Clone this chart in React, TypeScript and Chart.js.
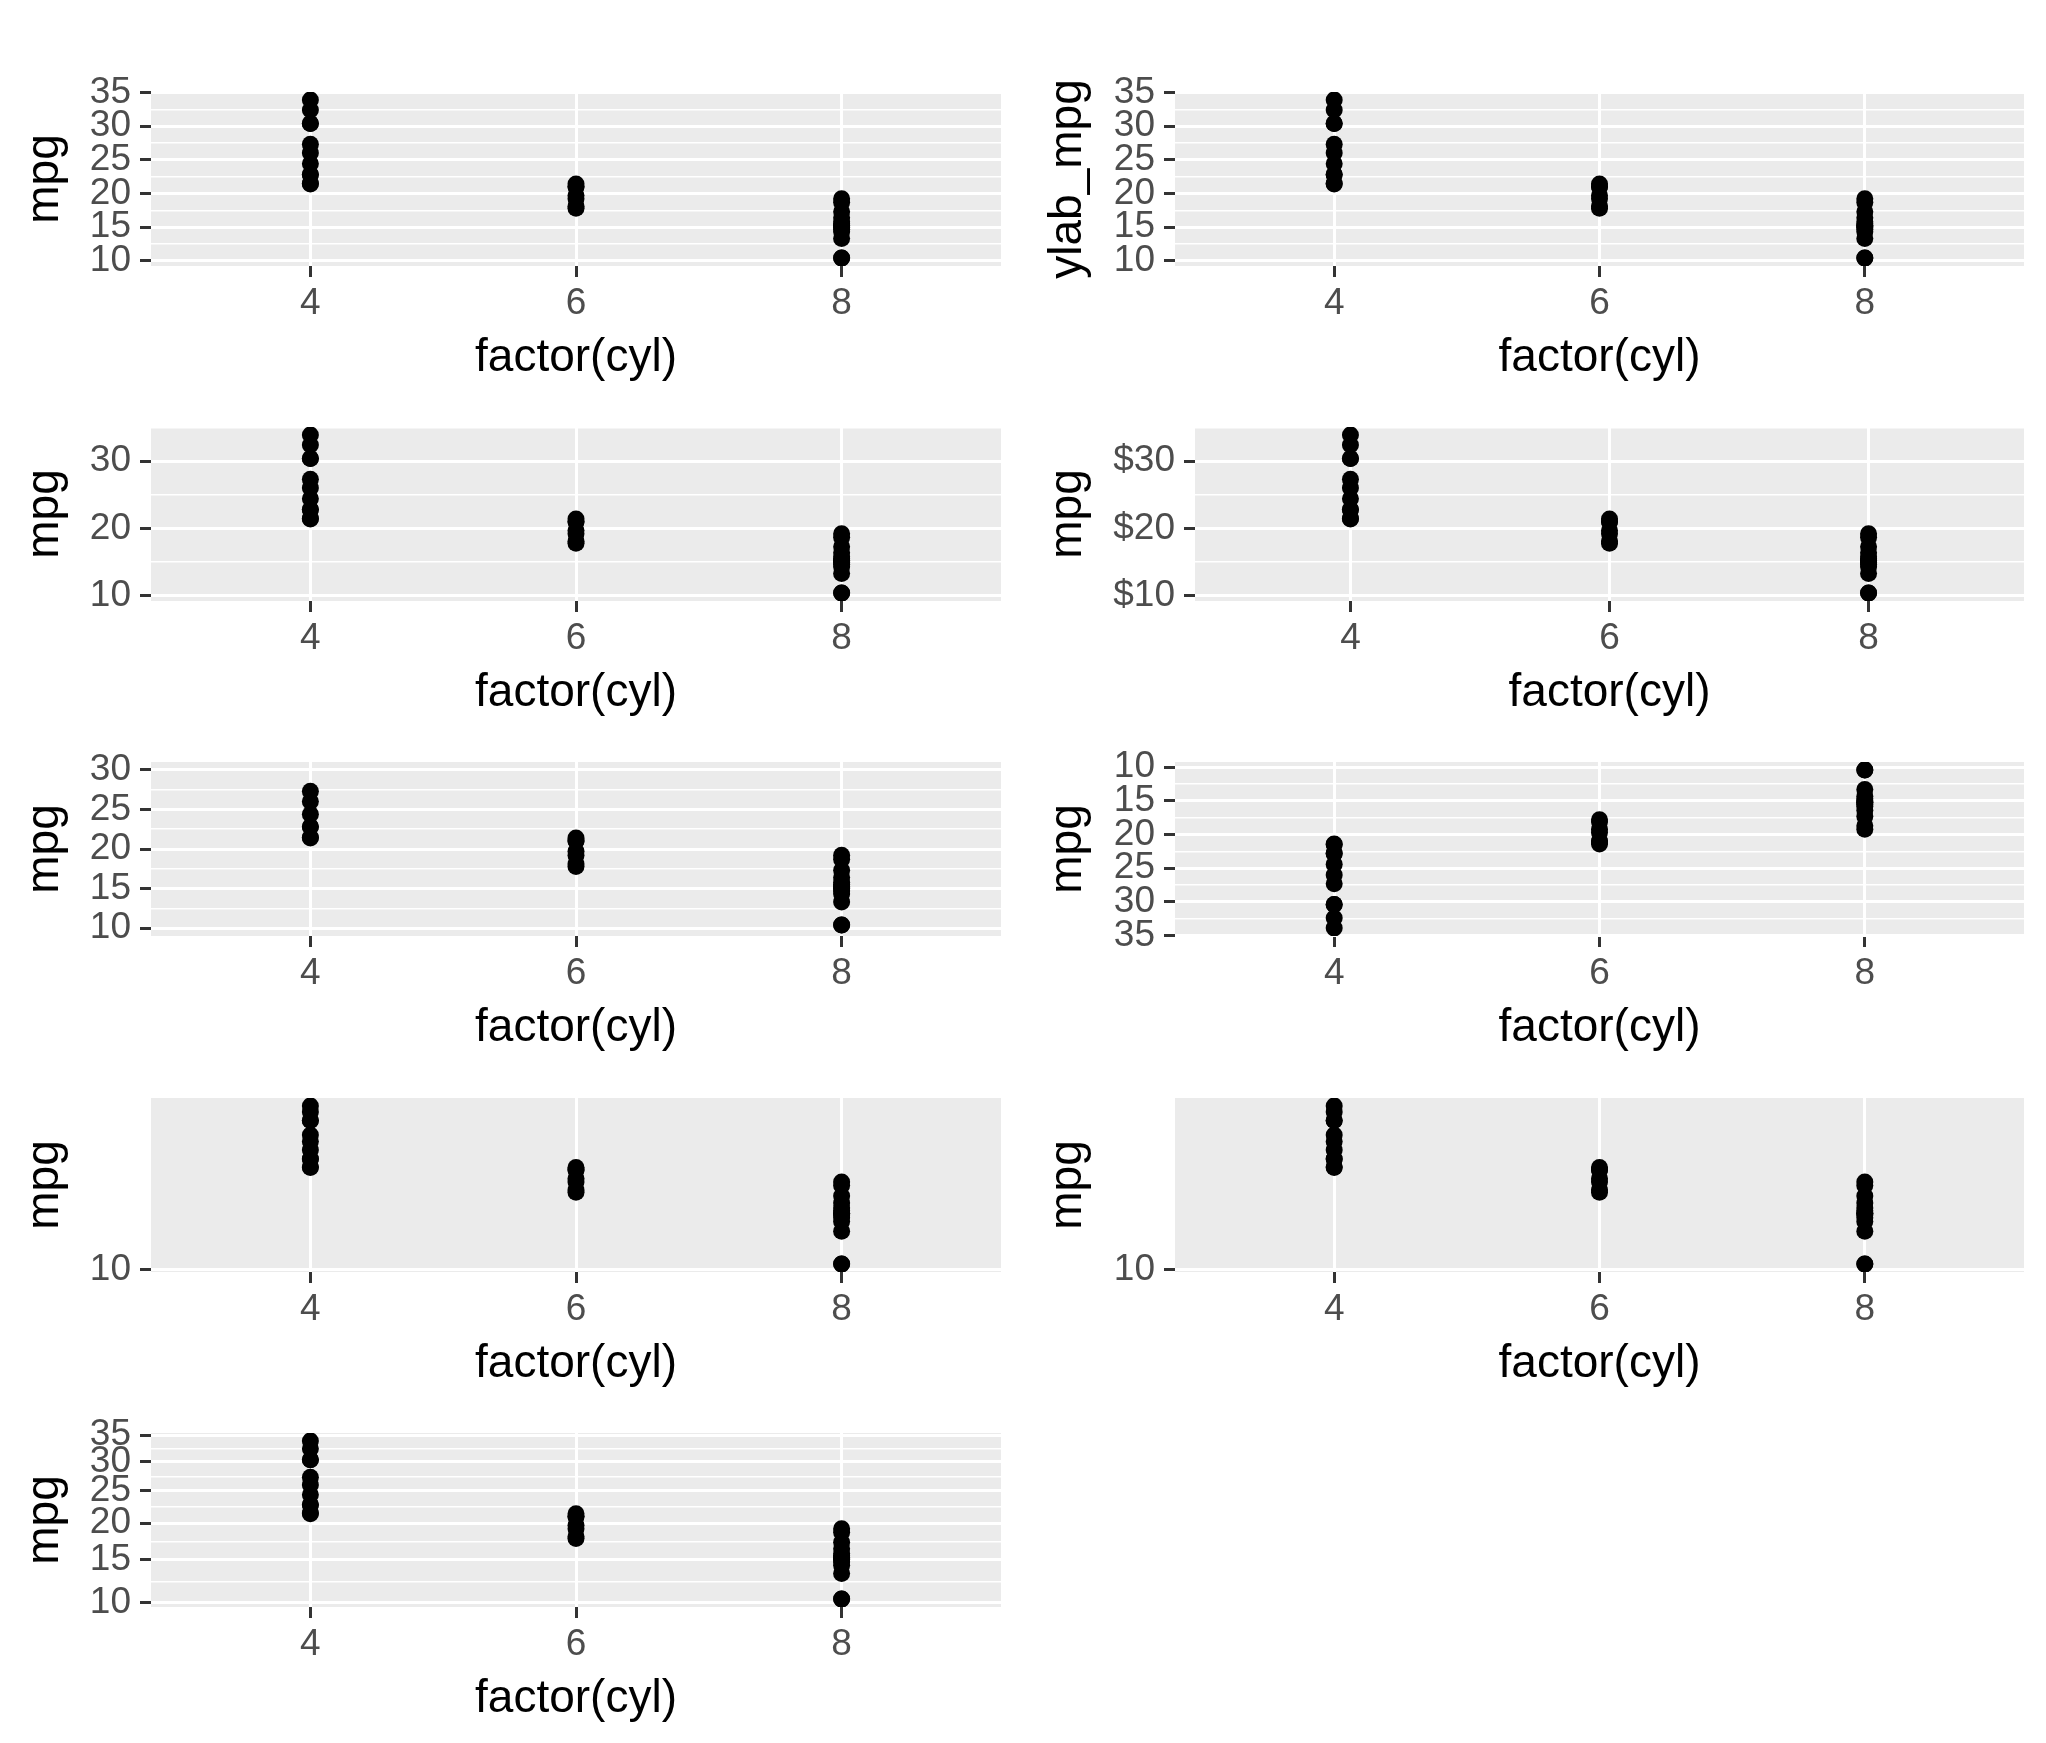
import React, { useEffect, useRef } from "react";
import { Chart, registerables, LinearScale } from "chart.js";

Chart.register(...registerables);

class SqrtScale extends LinearScale {
  static id = "sqrt";
  static defaults = LinearScale.defaults;
  getPixelForValue(value: number) {
    const a = Math.sqrt(this.min);
    const b = Math.sqrt(this.max);
    return this.getPixelForDecimal((Math.sqrt(value) - a) / (b - a));
  }
  getValueForPixel(pixel: number) {
    const a = Math.sqrt(this.min);
    const b = Math.sqrt(this.max);
    const s = a + this.getDecimalForPixel(pixel) * (b - a);
    return s * s;
  }
}
Chart.register(SqrtScale as any);

// ---------------- data ----------------
const cylLevels = ["4", "6", "8"];
const mpgCyl4 = [22.8, 24.4, 22.8, 32.4, 30.4, 33.9, 21.5, 27.3, 26.0, 30.4, 21.4];
const mpgCyl6 = [21.0, 21.0, 21.4, 18.1, 19.2, 17.8, 19.7];
const mpgCyl8 = [18.7, 14.3, 16.4, 17.3, 15.2, 10.4, 10.4, 14.7, 15.5, 15.2, 13.3, 19.2, 15.8, 15.0];

const breaksBy5 = [10, 15, 20, 25, 30, 35];
const minorBy5 = [12.5, 17.5, 22.5, 27.5, 32.5];
const breaksBy10 = [10, 20, 30];
const minorBy10 = [15, 25, 35];
const dollarLabels = ["$10", "$20", "$30"];
const limitedRange = [10, 30];
const breaksLimited = [10, 15, 20, 25, 30];
const minorLimited = [12.5, 17.5, 22.5, 27.5];
const breaksLog = [10];
const breaksSqrt = [10, 15, 20, 25, 30, 35];

// ---------------- layout ----------------
const COL_LEFT = [0, 1023];
const CANVAS_W = 1023;
const RIGHT_PAD = 22;
const PANEL_TOP0 = 92;
const ROW_STEP = 335.2;
const PANEL_H = 174;
const TOP_PAD = 45;
const X_AXIS_H = 115;

const FONT = "'Liberation Sans', Arial, sans-serif";
const tickFont = { family: FONT, size: 37, lineHeight: 1 };
const titleFont = { family: FONT, size: 46, lineHeight: 1 };

type Spec = {
  col: number;
  row: number;
  yTitle: string;
  kind: "linear" | "log" | "sqrt";
  breaks: number[];
  minor: number[];
  labels?: string[];
  limits?: number[];
  reverse?: boolean;
  yAxisW: number;
};

const panels: Spec[] = [
  { col: 0, row: 0, yTitle: "mpg", kind: "linear", breaks: breaksBy5, minor: minorBy5, yAxisW: 151 },
  { col: 1, row: 0, yTitle: "ylab_mpg", kind: "linear", breaks: breaksBy5, minor: minorBy5, yAxisW: 152 },
  { col: 0, row: 1, yTitle: "mpg", kind: "linear", breaks: breaksBy10, minor: minorBy10, yAxisW: 151 },
  { col: 1, row: 1, yTitle: "mpg", kind: "linear", breaks: breaksBy10, minor: minorBy10, labels: dollarLabels, yAxisW: 172 },
  { col: 0, row: 2, yTitle: "mpg", kind: "linear", breaks: breaksLimited, minor: minorLimited, limits: limitedRange, yAxisW: 151 },
  { col: 1, row: 2, yTitle: "mpg", kind: "linear", breaks: breaksBy5, minor: minorBy5, reverse: true, yAxisW: 152 },
  { col: 0, row: 3, yTitle: "mpg", kind: "log", breaks: breaksLog, minor: [], yAxisW: 151 },
  { col: 1, row: 3, yTitle: "mpg", kind: "log", breaks: breaksLog, minor: [], yAxisW: 152 },
  { col: 0, row: 4, yTitle: "mpg", kind: "sqrt", breaks: breaksSqrt, minor: [], yAxisW: 151 },
];

const fwd = (kind: string, v: number) => (kind === "log" ? Math.log10(v) : kind === "sqrt" ? Math.sqrt(v) : v);
const inv = (kind: string, v: number) => (kind === "log" ? Math.pow(10, v) : kind === "sqrt" ? v * v : v);

function buildConfig(spec: Spec): any {
  const series = [mpgCyl4, mpgCyl6, mpgCyl8];
  const all = series.flat();
  const lo = spec.limits ? spec.limits[0] : Math.min(...all);
  const hi = spec.limits ? spec.limits[1] : Math.max(...all);
  const tlo = fwd(spec.kind, lo);
  const thi = fwd(spec.kind, hi);
  const pad = (thi - tlo) * 0.05;
  const yMin = inv(spec.kind, tlo - pad);
  const yMax = inv(spec.kind, thi + pad);

  let minor = spec.minor;
  if (spec.kind === "sqrt") {
    minor = [];
    for (let i = 0; i < spec.breaks.length - 1; i++) {
      const m = (Math.sqrt(spec.breaks[i]) + Math.sqrt(spec.breaks[i + 1])) / 2;
      minor.push(m * m);
    }
  }

  const points = series.flatMap((vals, i) =>
    vals
      .filter((v) => !spec.limits || (v >= spec.limits[0] && v <= spec.limits[1]))
      .map((v) => ({ x: i + 1, y: v }))
  );

  const isMajor = (v: number) => spec.breaks.indexOf(v) >= 0;
  const yTicks = [...spec.breaks, ...minor].sort((a, b) => a - b);

  const bgPlugin = {
    id: "panelBg",
    beforeDraw(chart: any) {
      const { ctx, chartArea } = chart;
      ctx.save();
      ctx.fillStyle = "#EBEBEB";
      ctx.fillRect(chartArea.left, chartArea.top, chartArea.right - chartArea.left, chartArea.bottom - chartArea.top);
      ctx.restore();
    },
  };

  const yType = spec.kind === "log" ? "logarithmic" : spec.kind === "sqrt" ? "sqrt" : "linear";

  return {
    type: "scatter",
    data: {
      datasets: [
        {
          data: points,
          pointRadius: 8.5,
          pointHoverRadius: 8.5,
          pointBackgroundColor: "#000000",
          pointBorderColor: "#000000",
          pointBorderWidth: 0,
          showLine: false,
        },
      ],
    },
    plugins: [bgPlugin],
    options: {
      animation: false,
      responsive: false,
      events: [],
      layout: { padding: { top: TOP_PAD, left: 0, right: RIGHT_PAD, bottom: 0 } },
      plugins: { legend: { display: false }, tooltip: { enabled: false } },
      scales: {
        x: {
          type: "linear",
          min: 0.4,
          max: 3.6,
          afterBuildTicks: (s: any) => {
            s.ticks = cylLevels.map((_, i) => ({ value: i + 1 }));
          },
          afterFit: (s: any) => {
            s.height = X_AXIS_H;
          },
          ticks: {
            callback: (v: number) => cylLevels[Math.round(v) - 1],
            font: tickFont,
            color: "#4D4D4D",
            padding: 8,
            autoSkip: false,
            maxRotation: 0,
            minRotation: 0,
          },
          grid: { color: "#FFFFFF", lineWidth: 3, tickColor: "#333333", tickWidth: 3, tickLength: 11, drawTicks: true },
          border: { display: false },
          title: { display: true, text: "factor(cyl)", font: titleFont, color: "#000000", padding: { top: 0, bottom: 0 } },
        },
        y: {
          type: yType,
          min: yMin,
          max: yMax,
          reverse: !!spec.reverse,
          afterBuildTicks: (s: any) => {
            s.ticks = yTicks.map((v) => ({ value: v }));
          },
          afterFit: (s: any) => {
            s.width = spec.yAxisW;
          },
          ticks: {
            callback: (v: number) => {
              const i = spec.breaks.indexOf(v);
              if (i < 0) return "";
              return spec.labels ? spec.labels[i] : String(v);
            },
            font: tickFont,
            color: "#4D4D4D",
            padding: 9,
            autoSkip: false,
          },
          grid: {
            color: "#FFFFFF",
            lineWidth: (c: any) => (c.tick && isMajor(c.tick.value) ? 3 : 1.5),
            tickColor: (c: any) => (c.tick && isMajor(c.tick.value) ? "#333333" : "rgba(0,0,0,0)"),
            tickWidth: 3,
            tickLength: 11,
            drawTicks: true,
          },
          border: { display: false },
          title: { display: true, text: spec.yTitle, font: titleFont, color: "#000000", padding: { top: 22, bottom: 0 } },
        },
      },
    },
  };
}

function Panel({ spec }: { spec: Spec }) {
  const ref = useRef<HTMLCanvasElement | null>(null);
  const panelTop = Math.round(PANEL_TOP0 + ROW_STEP * spec.row);
  const top = panelTop - TOP_PAD;
  const left = COL_LEFT[spec.col];
  const h = TOP_PAD + PANEL_H + X_AXIS_H;
  useEffect(() => {
    const chart = new Chart(ref.current as HTMLCanvasElement, buildConfig(spec));
    return () => chart.destroy();
  }, []);
  return (
    <canvas
      ref={ref}
      width={CANVAS_W}
      height={h}
      style={{ position: "absolute", left, top, width: CANVAS_W, height: h }}
    />
  );
}

export default function App() {
  return (
    <div style={{ position: "absolute", left: 0, top: 0, width: 2046, height: 1743, background: "#FFFFFF", overflow: "hidden" }}>
      {panels.map((p, i) => (
        <Panel key={i} spec={p} />
      ))}
    </div>
  );
}
